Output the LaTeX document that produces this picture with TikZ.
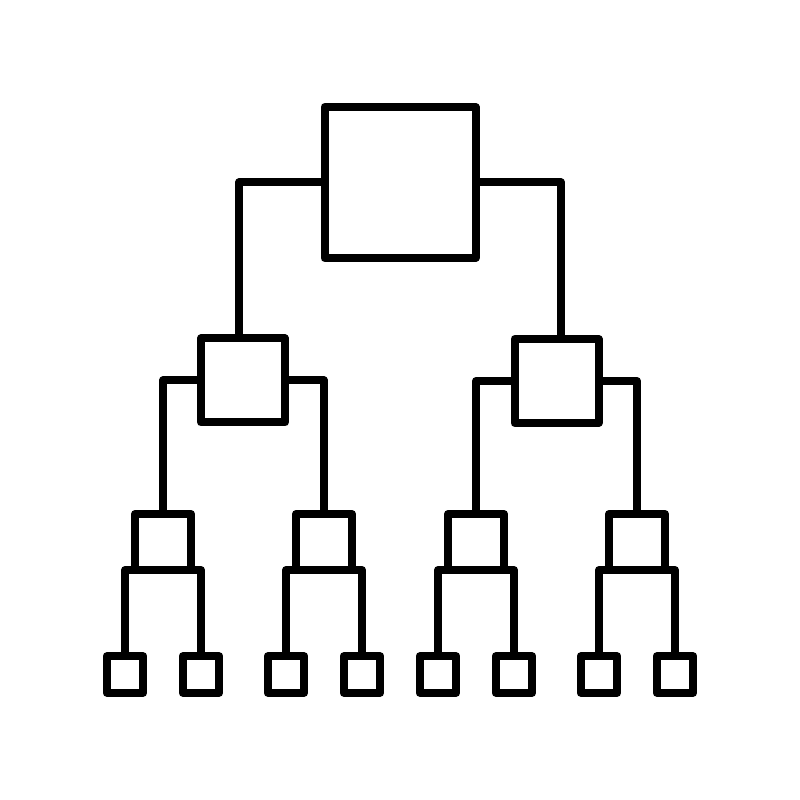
\documentclass[tikz,border=0pt]{standalone}
\usepackage{tikz}

\tikzset{
  box/.style={draw, line width=0.08cm, line join=round, inner sep=0pt, outer sep=0pt,
    minimum width=#1, minimum height=#1},
  link/.style={line width=0.08cm, line join=round}
}

\begin{document}
\begin{tikzpicture}
    \fill[white] (0,0) rectangle (8,8);
    \useasboundingbox (0,0) rectangle (8,8);

    % Draw top box
    \node[box=1.51cm] (top) at (4.00,6.175) {};

    % Draw middle boxes
    \node[box=0.84cm] (midL) at (2.43,4.195) {};
    \node[box=0.84cm] (midR) at (5.565,4.19) {};
    \draw[link] (top.west) -| ([xshift=-0.04cm]midL.north);
    \draw[link] (top.east) -| ([xshift=0.045cm]midR.north);

    % Draw lower boxes and leaves
    \foreach \name/\x/\up/\side in {a/1.63/midL/west, b/3.24/midL/east,
                                    c/4.76/midR/west, d/6.37/midR/east}{
      \node[box=0.56cm] (\name) at (\x,2.58) {};
      \draw[link] (\up.\side) -| (\name.north);
      \node[box=0.365cm] (\name1) at ({\x-0.38},1.255) {};
      \node[box=0.365cm] (\name2) at ({\x+0.38},1.255) {};
      \draw[link] (\name1.north) |- (\name.south) -| (\name2.north);
    }
\end{tikzpicture}
\end{document}
